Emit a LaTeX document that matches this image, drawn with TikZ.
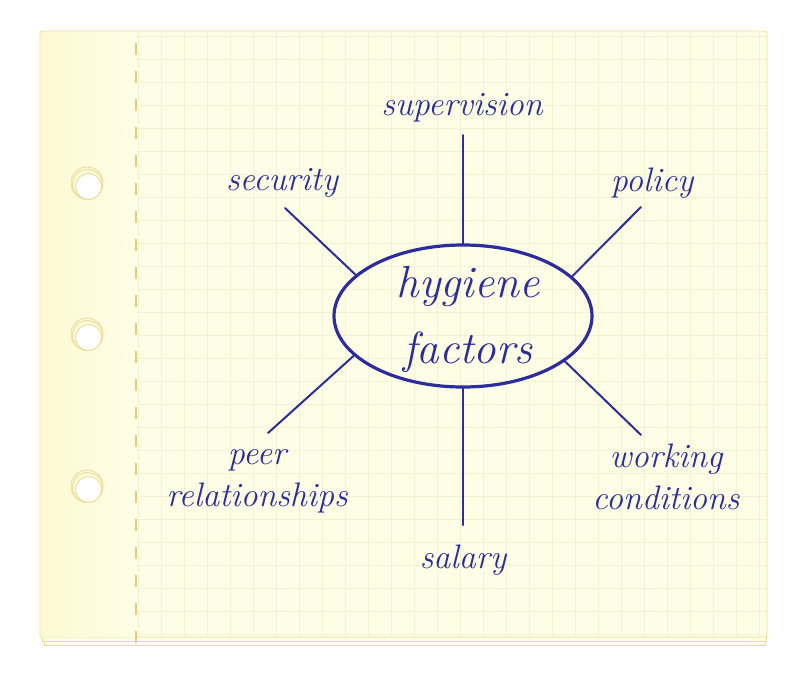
\documentclass[tikz,border=0pt]{standalone}
\usepackage{fontspec}
\usetikzlibrary{shapes.geometric}
\definecolor{ink}{HTML}{2C2C9E}
\definecolor{paper}{HTML}{FEFEE6}
\definecolor{strip}{HTML}{FCF9D2}
\definecolor{edge}{HTML}{EBDC98}
\definecolor{gridc}{HTML}{F2F2D4}
\definecolor{margin}{HTML}{E2CF78}
\tikzset{
  lbl/.style={text=ink, font=\itshape\fontsize{34}{42}\selectfont, inner sep=0pt, align=center},
  spoke/.style={draw=ink, line width=2pt, line cap=round},
  holering/.style={draw=edge, line width=0.9pt},
}
\begin{document}
\begin{tikzpicture}[x=1pt,y=-1pt]
\useasboundingbox (0,0) rectangle (800,675);
\fill[white] (0,0) rectangle (800,675);
% stacked sheets
\draw[edge, fill=paper, line width=0.8pt] (44,40) rectangle (765,645);
\draw[edge, fill=paper, line width=0.8pt] (42,36) rectangle (766,641);
% main sheet
\draw[edge, fill=paper, line width=0.8pt, rounded corners=2pt] (40,31) rectangle (767,637);
\shade[left color=strip, right color=paper] (41,32) rectangle (135,636);
% grid
\begin{scope}
\clip (137,32) rectangle (766,636);
\foreach \gx in {0,...,27} \draw[gridc, line width=0.5pt] (138+23*\gx,32) -- (138+23*\gx,636);
\foreach \gy in {0,...,26} \draw[gridc, line width=0.5pt] (137,36+23*\gy) -- (766,36+23*\gy);
\end{scope}
% margin dashes
\foreach \dy in {0,...,21} \draw[margin, line width=1.8pt] (136,43+28*\dy) -- (136,55+28*\dy);
% holes
\foreach \hy in {183,334,486} {
  \draw[holering] (87,\hy) circle (16);
  \draw[holering] (87.5,\hy+1.5) circle (15);
  \draw[holering, fill=white] (88.5,\hy+3.5) circle (13);
}
% center
\node[ellipse, draw=ink, line width=3.2pt, minimum width=258, minimum height=142, inner sep=0pt] (hf) at (463,316) {};
\node[lbl, font=\itshape\fontsize{45}{66}\selectfont] (hft) at (468,319) {hygiene\\factors};
% labels
\node[lbl] (sup) at (462,108) {supervision};
\node[lbl] (sec) at (282,183) {security};
\node[lbl] (pol) at (652,183) {policy};
\node[lbl] (peer) at (257,481) {peer\\relationships};
\node[lbl] (work) at (666,477) {working\\conditions};
\node[lbl] (sal) at (463,560) {salary};
% free ends of spokes
\coordinate (supE) at (463,135);
\coordinate (secE) at (285,208);
\coordinate (polE) at (641,207);
\coordinate (peerE) at (268,433);
\coordinate (workE) at (641,435);
\coordinate (salE) at (463,525);
\draw[spoke] (supE) -- (hf.north);
\draw[spoke] (secE) -- (hf.159.7);
\draw[spoke] (polE) -- (hf.20.2);
\draw[spoke] (peerE) -- (hf.200.3);
\draw[spoke] (workE) -- (hf.336.3);
\draw[spoke] (salE) -- (hf.south);
\end{tikzpicture}
\end{document}
